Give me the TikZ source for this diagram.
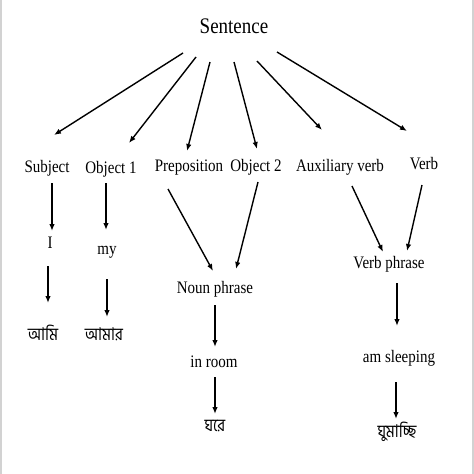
\documentclass[tikz,border=0pt]{standalone}
\usepackage{graphicx}
\usepackage{fontspec}
\setmainfont{Liberation Serif}
\newfontfamily\bn[Script=Bengali]{Hind Siliguri}
\usetikzlibrary{arrows.meta,calc}
\newcommand\tall[1]{\scalebox{1}[1.17]{#1}}
\tikzset{
  lbl/.style={inner sep=0pt,anchor=base,font=\fontsize{15}{15}\selectfont},
  bnl/.style={inner sep=0pt,anchor=center,font=\bn\fontsize{15}{15}\selectfont},
  arr/.style={line width=1.4pt,-{Latex[length=7pt,width=5.5pt]}}
}
\newcommand\conn[4]{\draw[arr] ($(#1)+(#2)$) -- ($(#3)+(#4)$);}
\begin{document}
\begin{tikzpicture}[x=1pt,y=-1pt]
\useasboundingbox (0,0) rectangle (474,474);
\fill[gray!35] (0,0) rectangle (2,474);
\fill[gray!35] (472,0) rectangle (474,474);
\node[lbl,font=\fontsize{19}{19}\selectfont] (sent) at (234,33) {\tall{Sentence}};
\node[lbl] (subj) at (47,172) {\tall{Subject}};
\node[lbl] (obj1) at (111,173) {\tall{Object 1}};
\node[lbl] (prep) at (189,171) {\tall{Preposition}};
\node[lbl] (obj2) at (256,171) {\tall{Object 2}};
\node[lbl] (aux) at (340,171) {\tall{Auxiliary verb}};
\node[lbl] (verb) at (424,169) {\tall{Verb}};
\node[lbl] (i) at (50,248) {\tall{I}};
\node[lbl] (my) at (107,254) {\tall{my}};
\node[bnl] (ami) at (43,333) {\tall{আমি}};
\node[bnl] (amar) at (104,334) {\tall{আমার}};
\node[lbl] (np) at (215,293) {\tall{Noun phrase}};
\node[lbl] (inroom) at (214,367) {\tall{in room}};
\node[bnl] (ghore) at (215,426) {\tall{ঘরে}};
\node[lbl] (vp) at (389,268) {\tall{Verb phrase}};
\node[lbl] (amsl) at (399,362) {\tall{am sleeping}};
\node[bnl] (ghum) at (397,432) {\tall{ঘুমাচ্ছি}};
\conn{sent.base}{-51,20}{subj.base}{7,-37}
\conn{sent.base}{-38,24}{obj1.base}{18,-30}
\conn{sent.base}{-24,29}{prep.base}{-2,-20}
\conn{sent.base}{0,29}{obj2.base}{1,-22}
\conn{sent.base}{23,28}{aux.base}{-18,-41}
\conn{sent.base}{43,19}{verb.base}{-17,-38}
\conn{subj.base}{5,11}{i.base}{2,-17}
\conn{i.base}{-2,18}{ami.center}{5,-30}
\conn{obj1.base}{-5,10}{my.base}{-1,-24}
\conn{my.base}{0,25}{amar.center}{3,-17}
\conn{prep.base}{-21,18}{np.base}{-2,-22}
\conn{obj2.base}{2,11}{np.base}{21,-24}
\conn{np.base}{0,12}{inroom.base}{1,-20}
\conn{inroom.base}{1,10}{ghore.center}{0,-12}
\conn{aux.base}{12,15}{vp.base}{-6,-16}
\conn{verb.base}{-2,16}{vp.base}{18,-17}
\conn{vp.base}{8,15}{amsl.base}{-2,-36}
\conn{amsl.base}{-3,20}{ghum.center}{-1,-13}
\end{tikzpicture}
\end{document}
